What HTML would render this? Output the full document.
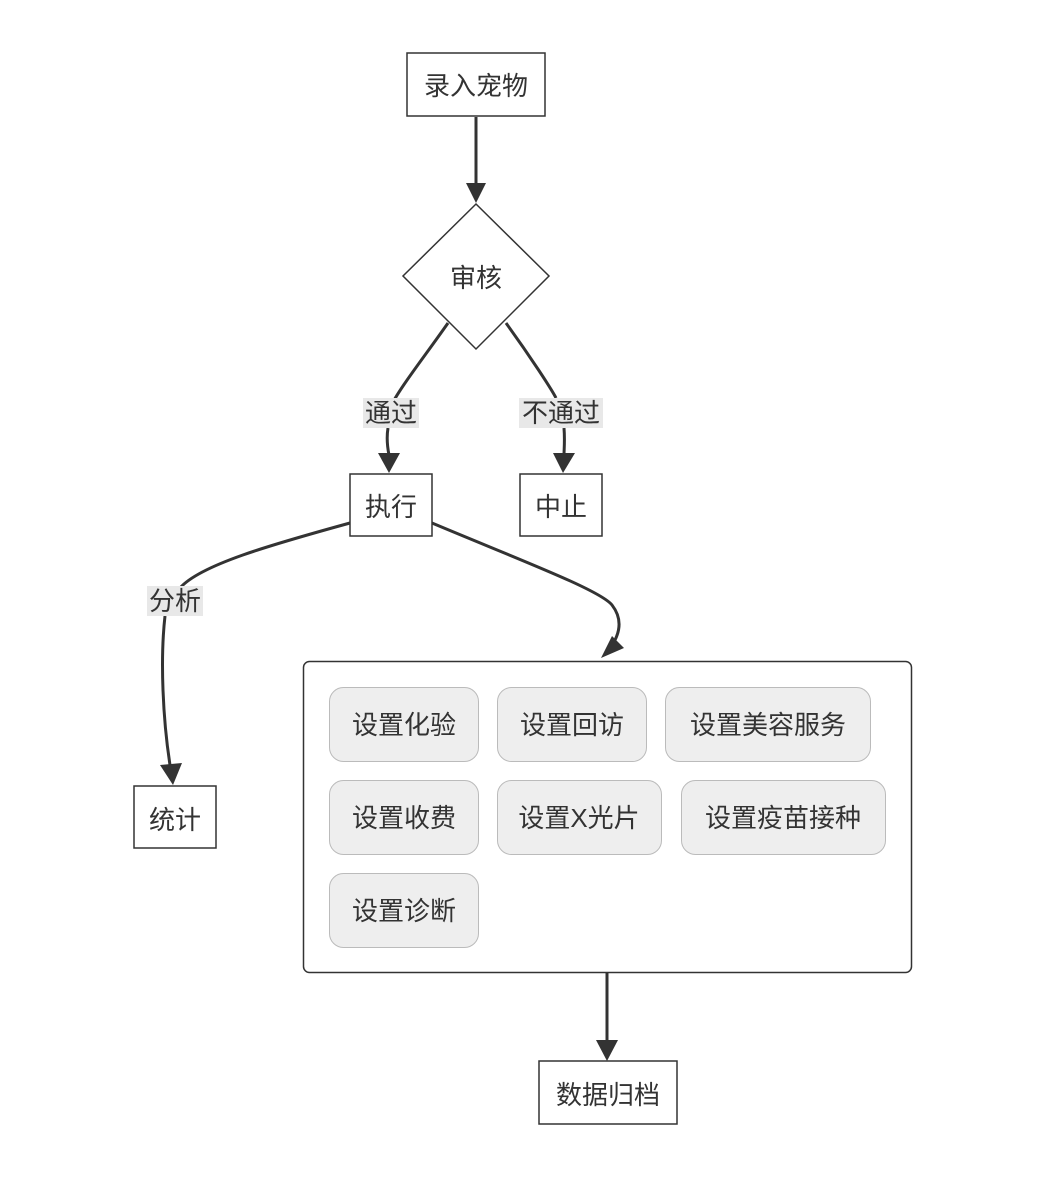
<!DOCTYPE html>
<html><head><meta charset="utf-8"><style>
html,body{margin:0;padding:0;background:#fff;}
svg{display:block;}
text{font-family:"Liberation Sans","Noto Sans CJK SC",sans-serif;font-size:26px;fill:#333;}
</style></head><body>
<svg width="1046" height="1181" viewBox="0 0 1046 1181" xmlns="http://www.w3.org/2000/svg">
<defs>
<marker id="a" viewBox="0 0 10 10" refX="9" refY="5" markerWidth="8" markerHeight="8" markerUnits="userSpaceOnUse" orient="auto" style="overflow:visible">
<path d="M0,0 L10,5 L0,10 z" fill="#333" transform="scale(2.2) translate(-5.5,-2.7)"/>
</marker>
</defs>
<g fill="none" stroke="#333" stroke-width="3">
<path d="M476,117 L476,183"/>
<path d="M448,323 C425,356 398,390 390,408 M388,428 C386,440 388,450 389,455"/>
<path d="M506,323 C530,356 552,390 556,398 M564,428 C565,440 564,450 564,455"/>
<path d="M350,523 C270,545 200,565 180,588 M165,616 C160,660 163,720 170,765"/>
<path d="M432,523 C520,560 600,590 612,605 C622,618 620,630 615,640"/>
<path d="M607,973 L607,1040"/>
</g>
<g fill="#333">
<path d="M466,183 L486,183 L476,203 z"/>
<path d="M378,453 L400,453 L389,473 z"/>
<path d="M553,453 L575,453 L563,473 z"/>
<path d="M601,658 L612,636 L624,648 z"/>
<path d="M160,765 L182,763 L173,785 z"/>
<path d="M596,1040 L618,1040 L607,1061 z"/>
</g>
<g fill="#fff" stroke="#333" stroke-width="1.5">
<rect x="407" y="53" width="138" height="63"/>
<path d="M476,204 L549,276 L476,349 L403,276 z"/>
<rect x="350" y="474" width="82" height="62"/>
<rect x="520" y="474" width="82" height="62"/>
<rect x="134" y="786" width="82" height="62"/>
<rect x="539" y="1061" width="138" height="63"/>
<rect x="303.5" y="661.5" width="608" height="311" rx="6"/>
</g>
<g fill="#e8e8e8">
<rect x="363" y="398" width="56" height="30"/>
<rect x="519" y="398" width="84" height="30"/>
<rect x="147" y="586" width="56" height="30"/>
</g>
<g fill="#eee" stroke="#bbb" stroke-width="1">
<rect x="329.5" y="687.5" width="149" height="74" rx="14"/>
<rect x="497.5" y="687.5" width="149" height="74" rx="14"/>
<rect x="665.5" y="687.5" width="205" height="74" rx="14"/>
<rect x="329.5" y="780.5" width="149" height="74" rx="14"/>
<rect x="497.5" y="780.5" width="164" height="74" rx="14"/>
<rect x="681.5" y="780.5" width="204" height="74" rx="14"/>
<rect x="329.5" y="873.5" width="149" height="74" rx="14"/>
</g>
<g text-anchor="middle">
<text x="476" y="95">录入宠物</text>
<text x="476" y="287">审核</text>
<text x="391" y="422">通过</text>
<text x="561" y="422">不通过</text>
<text x="391" y="516">执行</text>
<text x="561" y="516">中止</text>
<text x="175" y="610">分析</text>
<text x="175" y="829">统计</text>
<text x="608" y="1104">数据归档</text>
<text x="404" y="734">设置化验</text>
<text x="572" y="734">设置回访</text>
<text x="768" y="734">设置美容服务</text>
<text x="404" y="827">设置收费</text>
<text x="579" y="827">设置X光片</text>
<text x="783" y="827">设置疫苗接种</text>
<text x="404" y="920">设置诊断</text>
</g>
</svg>
</body></html>
